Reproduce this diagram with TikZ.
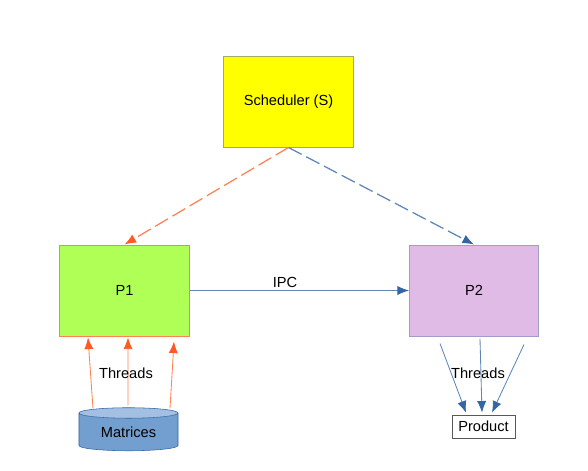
\documentclass[tikz,border=0pt]{standalone}
\usepackage{fontspec}
\setmainfont{Liberation Sans}
\usetikzlibrary{arrows.meta,calc,shapes.geometric}
\definecolor{giallo}{HTML}{FFFF00}
\definecolor{bordogiallo}{HTML}{A3A86B}
\definecolor{arancio}{HTML}{FF8255}
\definecolor{punta}{HTML}{FF5A26}
\definecolor{blu}{HTML}{5F86B8}
\definecolor{puntablu}{HTML}{3465A4}
\definecolor{verde}{HTML}{AFFF57}
\definecolor{lilla}{HTML}{E0BBE6}
\definecolor{bordolilla}{HTML}{A29BCB}
\definecolor{cilindro}{HTML}{729FCF}
\definecolor{coperchio}{HTML}{A3C0E2}
\tikzset{
    processo/.style={minimum width=3.225cm,minimum height=2.275cm,inner sep=0pt,line width=0.7pt,font=\fontsize{10.4}{12}\selectfont},
    etichetta/.style={inner sep=0pt,font=\fontsize{10.4}{12}\selectfont},
    frecciarossa/.style={draw=arancio,line width=0.6pt,-{Latex[length=2.9mm,width=2.3mm,color=punta]}},
    frecciablu/.style={draw=blu,line width=0.6pt,-{Latex[length=2.9mm,width=2.3mm,color=puntablu]}},
    tratteggio/.style={dash pattern=on 3.7mm off 1.3mm,line width=0.9pt}
}
\begin{document}
\begin{tikzpicture}[x=0.025cm,y=-0.025cm]
        \useasboundingbox (0,0) rectangle (588,470);
        % --- processi ------------------------------------------------------
        \node[processo,draw=bordogiallo,fill=giallo] (scheduler) at (288.5,101.5) {Scheduler (S)};
        \node[processo,draw=arancio,fill=verde] (p1) at (124.5,290.5) {P1};
        \node[processo,draw=bordolilla,fill=lilla] (p2) at (474,290.5) {P2};
        % --- dati ----------------------------------------------------------
        \node[cylinder,shape border rotate=90,aspect=0.19,draw=puntablu,line width=0.4pt,cylinder uses custom fill,
            cylinder body fill=cilindro,cylinder end fill=coperchio,
            minimum width=2.475cm,minimum height=1.075cm,inner sep=0pt,etichetta] (matrices) at (128.5,432) {Matrices};
        \node[draw=black!65,line width=0.5pt,minimum width=1.575cm,minimum height=0.575cm,inner sep=0pt,etichetta] (product) at (483.5,426.5) {Product};
        % --- scheduler -----------------------------------------------------
        \draw[frecciarossa,tratteggio] (scheduler.south) -- (p1.north);
        \draw[frecciablu,tratteggio] (scheduler.south) -- (p2.north);
        % --- IPC -----------------------------------------------------------
        \draw[frecciablu] (p1.east) -- (p2.west);
        \node[etichetta] (ipc) at (285,282) {IPC};
        % --- thread --------------------------------------------------------
        \draw[frecciarossa] ($(matrices.north)+(-35.5,1)$) -- ($(p1.south)+(-36.5,1)$);
        \draw[frecciarossa] ($(matrices.north)+(-0.5,-2)$) -- ($(p1.south)+(3.5,1)$);
        \draw[frecciarossa] ($(matrices.north)+(41.5,1)$) -- ($(p1.south)+(49.5,5)$);
        \draw[frecciablu] ($(p2.south)+(-34,7)$) -- ($(product.north)+(-17.5,-2)$);
        \draw[frecciablu] ($(p2.south)+(6,2)$) -- ($(product.north)+(-1.5,-2)$);
        \draw[frecciablu] ($(p2.south)+(50,8)$) -- ($(product.north)+(8.5,-2)$);
        \node[etichetta] (threads1) at (126,373) {Threads};
        \node[etichetta] (threads2) at (478,373) {Threads};
\end{tikzpicture}
\end{document}
